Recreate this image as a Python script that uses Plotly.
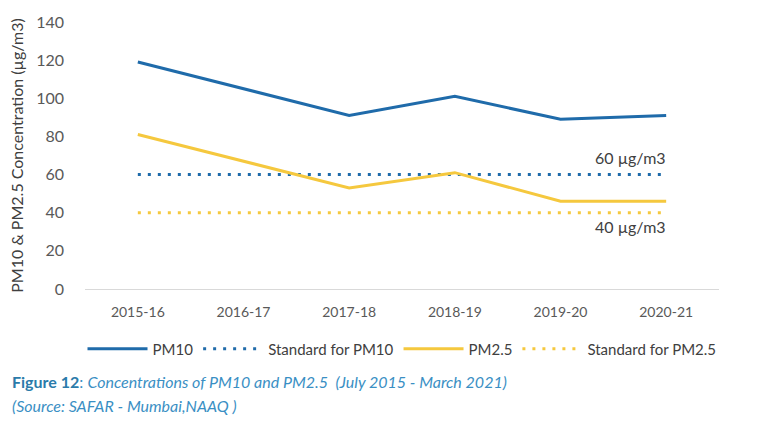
import plotly.graph_objects as go

years = ["2015-16", "2016-17", "2017-18", "2018-19", "2019-20", "2020-21"]
pm10 = [119, None, 91, 101, 89, 91]
pm25 = [81, None, 53, 61, 46, 46]
std_pm10 = [60, 60, 60, 60, 60, 60]
std_pm25 = [40, 40, 40, 40, 40, 40]

BLUE = "#1F6BAA"
YELLOW = "#F5C83E"
FONT = "Lato, 'Open Sans', sans-serif"

fig = go.Figure()
fig.add_trace(go.Scatter(x=years, y=pm10, name="PM10", mode="lines", connectgaps=True,
                         line=dict(color=BLUE, width=3)))
fig.add_trace(go.Scatter(x=years, y=std_pm10, name="Standard for PM10", mode="lines",
                         line=dict(color=BLUE, width=3, dash="3px,7px")))
fig.add_trace(go.Scatter(x=years, y=pm25, name="PM2.5", mode="lines", connectgaps=True,
                         line=dict(color=YELLOW, width=3)))
fig.add_trace(go.Scatter(x=years, y=std_pm25, name="Standard for PM2.5", mode="lines",
                         line=dict(color=YELLOW, width=3, dash="3px,7px")))

fig.add_annotation(x=years[-1], y=69, text="60 µg/m3", showarrow=False, xanchor="right", xshift=2,
                   font=dict(size=16, color="#404040", family=FONT))
fig.add_annotation(x=years[-1], y=33, text="40 µg/m3", showarrow=False, xanchor="right", xshift=2,
                   font=dict(size=16, color="#404040", family=FONT))

fig.add_annotation(xref="paper", yref="paper", x=-0.118, y=-0.345, xanchor="left", yanchor="middle",
                   text="<b>Figure 12</b><span style='color:#3A8FC4'>: <i>Concentrations of PM10 and PM2.5  (July 2015 - March 2021)</i></span>",
                   showarrow=False, font=dict(size=16, color="#2B7BAA", family=FONT))
fig.add_annotation(xref="paper", yref="paper", x=-0.118, y=-0.437, xanchor="left", yanchor="middle",
                   text="<i>(Source: SAFAR - Mumbai,NAAQ )</i>",
                   showarrow=False, font=dict(size=16, color="#3A8FC4", family=FONT))

fig.update_layout(
    width=768, height=429,
    margin=dict(l=85, r=49, t=17, b=140),
    paper_bgcolor="white", plot_bgcolor="white",
    font=dict(family=FONT, color="#595959", size=15),
    showlegend=True,
    legend=dict(orientation="h", x=0.5, xanchor="center", y=-0.225, yanchor="middle",
                font=dict(size=15, color="#404040"), itemwidth=60, traceorder="normal"),
    xaxis=dict(showgrid=False, showline=True, linecolor="#D9D9D9", linewidth=1,
               range=[-0.5, 5.5], ticks="", ticklabelstandoff=10,
               tickfont=dict(size=14, color="#595959"), fixedrange=True),
    yaxis=dict(range=[0, 140], dtick=20, showgrid=False, zeroline=False, showline=False,
               ticklabelstandoff=20,
               tickfont=dict(size=16, color="#595959"),
               title=dict(text="PM10 & PM2.5 Concentration (µg/m3)", font=dict(size=16, color="#404040"),
                          standoff=8)),
)

fig.write_html("out.html")
